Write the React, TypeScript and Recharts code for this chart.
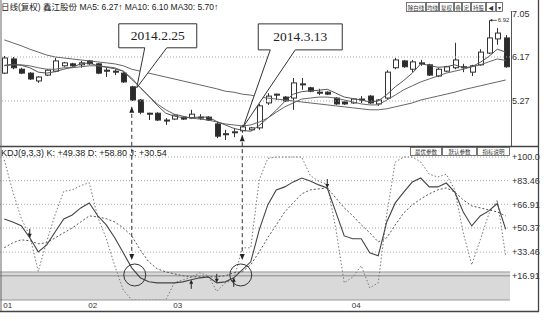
import React from 'react';
import {
  ComposedChart, Bar, Line, XAxis, YAxis, ReferenceLine, ReferenceArea, ReferenceDot,
} from 'recharts';

// ---------- data ----------
const dates = [
  '2014-01-28', '2014-01-29', '2014-01-30', '2014-02-07', '2014-02-10', '2014-02-11', '2014-02-12', '2014-02-13', '2014-02-14', '2014-02-17',
  '2014-02-18', '2014-02-19', '2014-02-20', '2014-02-21', '2014-02-24', '2014-02-25', '2014-02-26', '2014-02-27', '2014-02-28', '2014-03-03',
  '2014-03-04', '2014-03-05', '2014-03-06', '2014-03-07', '2014-03-10', '2014-03-11', '2014-03-12', '2014-03-13', '2014-03-14', '2014-03-17',
  '2014-03-18', '2014-03-19', '2014-03-20', '2014-03-21', '2014-03-24', '2014-03-25', '2014-03-26', '2014-03-27', '2014-03-28', '2014-03-31',
  '2014-04-01', '2014-04-02', '2014-04-03', '2014-04-04', '2014-04-08', '2014-04-09', '2014-04-10', '2014-04-11', '2014-04-14', '2014-04-15',
  '2014-04-16', '2014-04-17', '2014-04-18', '2014-04-21', '2014-04-22', '2014-04-23', '2014-04-24', '2014-04-25', '2014-04-28', '2014-04-29',
];

const opens = [
  5.84, 6.13, 5.92, 5.84, 5.68, 5.80, 5.88, 5.99, 6.03, 6.01,
  6.09, 6.03, 5.90, 5.88, 5.84, 5.56, 5.29, 5.02, 5.02, 4.88,
  4.90, 4.94, 4.92, 4.94, 4.94, 4.80, 4.60, 4.63, 4.66, 4.68,
  4.72, 5.23, 5.41, 5.35, 5.33, 5.62, 5.54, 5.45, 5.45, 5.33,
  5.25, 5.23, 5.31, 5.37, 5.21, 5.33, 5.95, 6.09, 5.92, 6.05,
  6.01, 5.78, 5.88, 5.95, 5.97, 5.86, 6.01, 6.25, 6.54, 6.56,
];
const highs = [
  6.19, 6.17, 5.95, 5.86, 5.78, 5.92, 6.15, 6.07, 6.05, 6.09,
  6.11, 6.05, 5.95, 5.92, 5.86, 5.58, 5.31, 5.03, 5.04, 4.92,
  5.00, 4.96, 5.09, 5.00, 4.96, 4.84, 4.68, 4.72, 4.78, 4.74,
  5.21, 5.43, 5.42, 5.37, 5.74, 5.74, 5.56, 5.52, 5.47, 5.35,
  5.27, 5.33, 5.37, 5.39, 5.31, 5.90, 6.15, 6.11, 6.11, 6.11,
  6.03, 5.95, 5.99, 6.46, 6.03, 6.01, 6.33, 6.92, 6.76, 6.62,
];
const lows = [
  5.82, 5.92, 5.82, 5.70, 5.64, 5.78, 5.86, 5.97, 5.97, 5.95,
  6.01, 5.82, 5.76, 5.80, 5.64, 5.27, 5.00, 4.88, 4.86, 4.78,
  4.88, 4.88, 4.90, 4.88, 4.86, 4.51, 4.47, 4.53, 4.62, 4.66,
  4.68, 5.19, 5.29, 5.25, 5.09, 5.50, 5.45, 5.39, 5.39, 5.19,
  5.19, 5.21, 5.23, 5.21, 5.17, 5.29, 5.92, 5.95, 5.86, 5.99,
  5.78, 5.76, 5.86, 5.92, 5.86, 5.78, 5.99, 6.23, 6.42, 5.95,
];
const closes = [
  6.15, 5.95, 5.84, 5.72, 5.76, 5.90, 6.09, 6.05, 5.99, 6.05,
  6.03, 5.84, 5.89, 5.87, 5.66, 5.29, 5.04, 5.01, 4.88, 4.87,
  4.98, 4.90, 5.00, 4.93, 4.88, 4.55, 4.59, 4.64, 4.74, 4.72,
  5.17, 5.37, 5.40, 5.27, 5.64, 5.61, 5.47, 5.44, 5.41, 5.21,
  5.21, 5.31, 5.30, 5.23, 5.29, 5.86, 6.11, 5.97, 6.07, 6.04,
  5.80, 5.92, 5.97, 6.11, 5.96, 5.99, 6.27, 6.56, 6.66, 5.97,
];

const ma5 = [
  6.00, 6.02, 6.00, 5.95, 5.86, 5.84, 5.87, 5.92, 5.96, 6.03,
  6.05, 5.99, 5.96, 5.93, 5.88, 5.71, 5.55, 5.37, 5.18, 5.02,
  4.96, 4.93, 4.93, 4.94, 4.94, 4.85, 4.78, 4.71, 4.67, 4.65,
  4.77, 4.92, 5.08, 5.26, 5.41, 5.46, 5.48, 5.49, 5.51, 5.43,
  5.35, 5.32, 5.29, 5.25, 5.27, 5.40, 5.56, 5.69, 5.84, 6.03,
  6.00, 5.96, 5.97, 6.01, 5.95, 5.97, 6.06, 6.18, 6.33, 6.27,
];
const ma10 = [
  5.99, 6.01, 6.01, 5.99, 5.95, 5.92, 5.92, 5.95, 5.95, 5.97,
  5.99, 5.99, 5.97, 5.95, 5.88, 5.74, 5.54, 5.37, 5.21, 5.09,
  5.00, 4.96, 4.92, 4.90, 4.88, 4.84, 4.80, 4.78, 4.76, 4.78,
  4.84, 4.92, 5.04, 5.15, 5.23, 5.31, 5.33, 5.35, 5.35, 5.33,
  5.29, 5.25, 5.21, 5.19, 5.19, 5.29, 5.39, 5.50, 5.58, 5.66,
  5.72, 5.78, 5.84, 5.88, 5.92, 5.97, 6.01, 6.07, 6.13, 6.10,
];
const ma30 = [
  6.52, 6.46, 6.40, 6.33, 6.27, 6.21, 6.17, 6.15, 6.13, 6.11,
  6.09, 6.07, 6.05, 6.03, 5.99, 5.92, 5.88, 5.84, 5.80, 5.76,
  5.72, 5.68, 5.64, 5.60, 5.56, 5.52, 5.47, 5.45, 5.41, 5.39,
  5.35, 5.33, 5.31, 5.29, 5.27, 5.25, 5.23, 5.21, 5.19, 5.17,
  5.15, 5.13, 5.11, 5.09, 5.09, 5.11, 5.15, 5.19, 5.23, 5.29,
  5.33, 5.37, 5.41, 5.45, 5.50, 5.54, 5.58, 5.62, 5.66, 5.70,
];

const kValues = [
  56.7, 54.6, 51.9, 43.5, 33.7, 38.6, 47.7, 56.7, 59.5, 64.4,
  67.9, 58.9, 52.5, 43.5, 33.0, 22.5, 15.6, 12.8, 12.0, 12.0,
  12.0, 12.7, 14.1, 15.5, 16.2, 12.0, 12.7, 15.5, 21.0, 26.7,
  49.0, 66.5, 77.0, 79.1, 82.6, 85.3, 83.2, 80.5, 78.3, 61.6,
  44.8, 42.8, 42.8, 33.0, 30.9, 54.6, 67.9, 75.5, 82.5, 85.3,
  79.1, 79.1, 81.8, 75.5, 61.6, 51.8, 58.8, 62.3, 67.5, 49.38,
];
const dValues = [
  36.5, 40.0, 42.1, 41.4, 39.3, 40.0, 43.5, 47.0, 50.4, 54.6,
  58.8, 58.1, 56.8, 54.6, 50.4, 44.8, 35.1, 26.7, 21.8, 19.7,
  18.3, 17.0, 16.2, 16.2, 16.2, 16.2, 17.0, 19.0, 19.7, 24.6,
  33.7, 43.5, 52.5, 61.6, 68.0, 74.2, 77.0, 77.7, 78.4, 71.4,
  64.4, 58.9, 52.6, 47.0, 40.6, 43.5, 52.5, 60.9, 66.5, 70.7,
  74.2, 77.0, 78.4, 75.5, 70.0, 65.8, 64.4, 63.0, 61.6, 58.80,
];
const jValues = [
  98, 76, 57, 45, 20, 41, 60, 76, 77, 80,
  82, 58, 43, 24, 7, 0, 0, 0, 0, 0,
  12, 14, 16, 19, 17, 6, 12, 14, 36.5, 36.5,
  84, 99, 100, 100, 100, 100, 87, 83, 81, 50,
  12, 16, 24, 8.5, 12, 60, 96.5, 100, 100, 96.5,
  88, 86, 88, 77, 47, 24.6, 42, 60, 70, 30.54,
];

const monthTickDates = ['2014-01-28', '2014-02-18', '2014-03-04', '2014-04-02'];
const monthLabels = ['01', '02', '03', '04'];
const priceTicks = [7.05, 6.17, 5.27];
const kdjTicks = [100, 83.46, 66.91, 50.37, 33.46, 16.91];
const kdjTickLabels = ['+100.0', '+83.46', '+66.91', '+50.37', '+33.46', '+16.91'];

const calloutIdx = [15, 28];
const calloutText = ['2014.2.25', '2014.3.13'];
const calloutTipPrice = [5.54, 4.74];
const arrowTopPrice = [5.15, 4.57];
const arrowEndKdj = [28, 28];
const circleKdj = [17.5, 17.5];

const signalIdx = [3, 22, 25, 27, 38];
const signalDir = ['down', 'up', 'down', 'up', 'down'];

const highMarkIdx = 57;
const highMarkText = '6.92';

const titleText = '日线(复权) 鑫江股份 MA5: 6.27↑ MA10: 6.10 MA30: 5.70↑';
const kdjTitle = 'KDJ(9,3,3) K: +49.38  D: +58.80  J: +30.54';
const topButtons = ['除白线', '均线', '复权', '叠', '定', '持股', '◀', '▾'];
const kdjButtons = ['最优参数', '默认参数', '指标说明'];

// ---------- layout ----------
const PRICE_MAX = 7.234;
const PRICE_MIN = 1.198;
const KDJ_MIN = 0;
const KDJ_MAX = 206.3;
const priceToKdj = (p: number) =>
  KDJ_MIN + ((p - PRICE_MIN) / (PRICE_MAX - PRICE_MIN)) * (KDJ_MAX - KDJ_MIN);

const FONT = '"Liberation Sans", "Noto Sans CJK SC", Arial, sans-serif';
const calloutLayout = [
  { tipDx: 5, dx: -18, dy: -64, w: 78, h: 24, wa: 8, wb: 30 },
  { tipDx: 1, dx: 15, dy: -103, w: 84, h: 26, wa: 27, wb: 52 },
];
const circleDx = [3, -1.5];
const topBtnW = [20, 13, 15, 8, 9, 15, 10, 7];
const kdjBtnW = [32, 35, 33];

const rows = dates.map((date, i) => ({
  date,
  open: opens[i],
  high: highs[i],
  low: lows[i],
  close: closes[i],
  range: [lows[i], highs[i]],
  ma5: ma5[i],
  ma10: ma10[i],
  ma30: ma30[i],
  k: kValues[i],
  d: dValues[i],
  j: jValues[i],
}));

// ---------- shapes ----------
const Candle = (props: any) => {
  const { x, y, width, height, payload } = props;
  if (!payload || x == null || y == null) return null;
  const top0 = Math.min(y, y + height);
  const h = Math.abs(height);
  const { open, close, high, low } = payload;
  const span = high - low || 1;
  const py = (v: number) => top0 + ((high - v) / span) * h;
  const cx = Math.round(x + width / 2) + 0.5;
  const up = close >= open;
  const bTop = py(Math.max(open, close));
  const bBot = py(Math.min(open, close));
  const bh = Math.max(bBot - bTop, 1);
  const bx = Math.round(cx - width / 2) + 0.5;
  return (
    <g>
      <line x1={cx} x2={cx} y1={top0} y2={top0 + h} stroke="#333" strokeWidth={1} />
      <rect x={bx} y={bTop} width={width - 1} height={bh} fill={up ? '#fff' : '#2a2a2a'} stroke="#333" strokeWidth={1} />
    </g>
  );
};

const Callout = (props: any) => {
  const { cx, cy, text, lay } = props;
  if (cx == null || cy == null) return null;
  const tx = cx + lay.tipDx;
  const ty = cy;
  const l = tx + lay.dx;
  const t = ty + lay.dy;
  const r = l + lay.w;
  const b = t + lay.h;
  const d = `M${l},${t}H${r}V${b}H${tx + lay.wb}L${tx},${ty}L${tx + lay.wa},${b}H${l}Z`;
  return (
    <g>
      <path d={d} fill="#fff" stroke="#333" strokeWidth={1} />
      <text x={(l + r) / 2} y={(t + b) / 2 + 4.5} textAnchor="middle" fontFamily='"Liberation Serif", serif' fontSize={13.5} fill="#222">
        {text}
      </text>
    </g>
  );
};

const UpHead = (props: any) => {
  const { cx, cy } = props;
  if (cx == null) return null;
  return <path d={`M${cx},${cy}L${cx - 2.5},${cy + 6}L${cx + 2.5},${cy + 6}Z`} fill="#222" />;
};
const DownHead = (props: any) => {
  const { cx, cy } = props;
  if (cx == null) return null;
  return <path d={`M${cx},${cy}L${cx - 2.5},${cy - 6}L${cx + 2.5},${cy - 6}Z`} fill="#222" />;
};
const Ring = (props: any) => {
  const { cx, cy, dx } = props;
  if (cx == null) return null;
  return <circle cx={cx + dx} cy={cy} r={11} fill="none" stroke="#333" strokeWidth={1} />;
};
const Signal = (props: any) => {
  const { cx, cy, dir } = props;
  if (cx == null) return null;
  if (dir === 'down') {
    return (
      <g>
        <line x1={cx} x2={cx} y1={cy - 9} y2={cy - 3} stroke="#222" strokeWidth={1} />
        <path d={`M${cx},${cy}L${cx - 2},${cy - 4}L${cx + 2},${cy - 4}Z`} fill="#222" />
      </g>
    );
  }
  return (
    <g>
      <line x1={cx} x2={cx} y1={cy + 3} y2={cy + 9} stroke="#222" strokeWidth={1} />
      <path d={`M${cx},${cy}L${cx - 2},${cy + 4}L${cx + 2},${cy + 4}Z`} fill="#222" />
    </g>
  );
};
const HighMark = (props: any) => {
  const { cx, cy, text } = props;
  if (cx == null) return null;
  return (
    <g>
      <line x1={cx + 1} x2={cx + 8} y1={cy} y2={cy} stroke="#333" strokeWidth={0.8} />
      <path d={`M${cx + 1},${cy}L${cx + 3.5},${cy - 1.5}L${cx + 3.5},${cy + 1.5}Z`} fill="#333" />
      <text x={cx + 9} y={cy + 2} fontSize={6} fill="#333">{text}</text>
    </g>
  );
};

const MonthTick = (props: any) => {
  const { x, y, payload } = props;
  const k = monthTickDates.indexOf(payload?.value);
  if (k < 0) return null;
  return (
    <text x={x - 1} y={y + 6} fontSize={8} fill="#333" textAnchor="start">
      {monthLabels[k]}
    </text>
  );
};

// ---------- chrome ----------
const Chrome = () => {
  let bx = 406;
  const tb = topButtons.map((label, i) => {
    const x = bx;
    bx += topBtnW[i];
    return (
      <g key={'tb' + i}>
        <rect x={x + 0.5} y={2.5} width={topBtnW[i] - 1} height={9} fill="#fff" stroke="#555" strokeWidth={0.8} />
        <text x={x + topBtnW[i] / 2} y={9.5} fontSize={5.5} textAnchor="middle" fill="#333">{label}</text>
      </g>
    );
  });
  let kx = 410;
  const kb = kdjButtons.map((label, i) => {
    const x = kx;
    kx += kdjBtnW[i];
    return (
      <g key={'kb' + i}>
        <rect x={x + 0.5} y={147.5} width={kdjBtnW[i] - 1} height={8} fill="#fff" stroke="#555" strokeWidth={0.8} />
        <text x={x + kdjBtnW[i] / 2} y={154} fontSize={5.5} textAnchor="middle" fill="#333">{label}</text>
      </g>
    );
  });
  return (
    <svg width={554} height={321} style={{ position: 'absolute', left: 0, top: 0, pointerEvents: 'none' }}>
      <text x={1} y={10} fontSize={8.5} fill="#222">{titleText}</text>
      <text x={1} y={155.5} fontSize={9} fill="#222">{kdjTitle}</text>
      <line x1={511.5} x2={511.5} y1={11} y2={146} stroke="#555" strokeWidth={1} />
      <line x1={0} x2={539} y1={146.5} y2={146.5} stroke="#444" strokeWidth={1.3} />
      <line x1={1} x2={1} y1={0} y2={312} stroke="#666" strokeWidth={1} />
      <line x1={538.5} x2={538.5} y1={0} y2={312} stroke="#444" strokeWidth={1.3} />
      <line x1={0} x2={539} y1={311.5} y2={311.5} stroke="#444" strokeWidth={1.3} />
      {tb}
      {kb}
    </svg>
  );
};

export default function App() {
  return (
    <div style={{ position: 'absolute', left: 0, top: 0, width: 554, height: 321, background: '#fff', fontFamily: FONT, overflow: 'hidden' }}>
      <ComposedChart width={554} height={312} data={rows} margin={{ top: 5, right: 0, left: 0, bottom: 0 }}>
        <XAxis
          dataKey="date"
          height={12}
          interval={0}
          ticks={monthTickDates}
          tick={<MonthTick />}
          tickLine={false}
          tickSize={0}
          axisLine={{ stroke: '#999' }}
        />
        <YAxis
          yAxisId="price"
          orientation="right"
          width={44}
          domain={[PRICE_MIN, PRICE_MAX]}
          allowDataOverflow
          ticks={priceTicks}
          interval={0}
          tickFormatter={(v: number) => v.toFixed(2)}
          tick={{ fontSize: 9, fill: '#333' }}
          tickLine={false}
          tickSize={0}
          tickMargin={2}
          axisLine={false}
        />
        <YAxis yAxisId="kdj" hide domain={[KDJ_MIN, KDJ_MAX]} allowDataOverflow />

        <ReferenceArea yAxisId="kdj" y1={0} y2={19.6} fill="#d9d9d9" fillOpacity={1} stroke="none" ifOverflow="visible" />
        <ReferenceLine yAxisId="kdj" y={19.6} stroke="#999" strokeWidth={1} />

        {priceTicks.slice(1).map((p) => (
          <ReferenceLine key={'pg' + p} yAxisId="price" y={p} stroke="#aaa" strokeDasharray="1 2" />
        ))}
        {kdjTicks.map((v, i) => (
          <ReferenceLine
            key={'kg' + v}
            yAxisId="kdj"
            y={v}
            stroke={i === kdjTicks.length - 1 ? '#888' : '#aaa'}
            strokeDasharray={i === kdjTicks.length - 1 ? undefined : '1 2'}
            label={{ value: kdjTickLabels[i], position: 'right', offset: 2, fontSize: 9, fill: '#333' }}
          />
        ))}

        <Bar yAxisId="price" dataKey="range" barSize={6} shape={<Candle />} isAnimationActive={false} />
        <Line yAxisId="price" dataKey="ma30" type="linear" stroke="#666" strokeWidth={1} dot={false} isAnimationActive={false} />
        <Line yAxisId="price" dataKey="ma10" type="linear" stroke="#666" strokeWidth={1} dot={false} isAnimationActive={false} />
        <Line yAxisId="price" dataKey="ma5" type="linear" stroke="#555" strokeWidth={1} dot={false} isAnimationActive={false} />

        <Line yAxisId="kdj" dataKey="j" type="linear" stroke="#777" strokeWidth={1} strokeDasharray="1.5 2" dot={false} isAnimationActive={false} />
        <Line yAxisId="kdj" dataKey="d" type="linear" stroke="#555" strokeWidth={1} strokeDasharray="2 2" dot={false} isAnimationActive={false} />
        <Line yAxisId="kdj" dataKey="k" type="linear" stroke="#444" strokeWidth={1.1} dot={false} isAnimationActive={false} />

        {signalIdx.map((idx, n) => (
          <ReferenceDot key={'sg' + n} yAxisId="kdj" x={dates[idx]} y={kValues[idx]} ifOverflow="visible"
            shape={(p: any) => <Signal {...p} dir={signalDir[n]} />} />
        ))}

        {calloutIdx.map((idx, n) => (
          <ReferenceLine key={'vl' + n} yAxisId="kdj" ifOverflow="visible"
            segment={[{ x: dates[idx], y: priceToKdj(arrowTopPrice[n]) }, { x: dates[idx], y: arrowEndKdj[n] }]}
            stroke="#333" strokeWidth={1} strokeDasharray="4 3" />
        ))}
        {calloutIdx.map((idx, n) => (
          <ReferenceDot key={'ua' + n} yAxisId="price" x={dates[idx]} y={arrowTopPrice[n]} ifOverflow="visible" shape={(p: any) => <UpHead {...p} />} />
        ))}
        {calloutIdx.map((idx, n) => (
          <ReferenceDot key={'da' + n} yAxisId="kdj" x={dates[idx]} y={arrowEndKdj[n]} ifOverflow="visible" shape={(p: any) => <DownHead {...p} />} />
        ))}
        {calloutIdx.map((idx, n) => (
          <ReferenceDot key={'ci' + n} yAxisId="kdj" x={dates[idx]} y={circleKdj[n]} ifOverflow="visible" shape={(p: any) => <Ring {...p} dx={circleDx[n]} />} />
        ))}
        {calloutIdx.map((idx, n) => (
          <ReferenceDot key={'co' + n} yAxisId="price" x={dates[idx]} y={calloutTipPrice[n]} ifOverflow="visible"
            shape={(p: any) => <Callout {...p} text={calloutText[n]} lay={calloutLayout[n]} />} />
        ))}
        <ReferenceDot yAxisId="price" x={dates[highMarkIdx]} y={highs[highMarkIdx]} ifOverflow="visible"
          shape={(p: any) => <HighMark {...p} text={highMarkText} />} />
      </ComposedChart>
      <Chrome />
    </div>
  );
}
